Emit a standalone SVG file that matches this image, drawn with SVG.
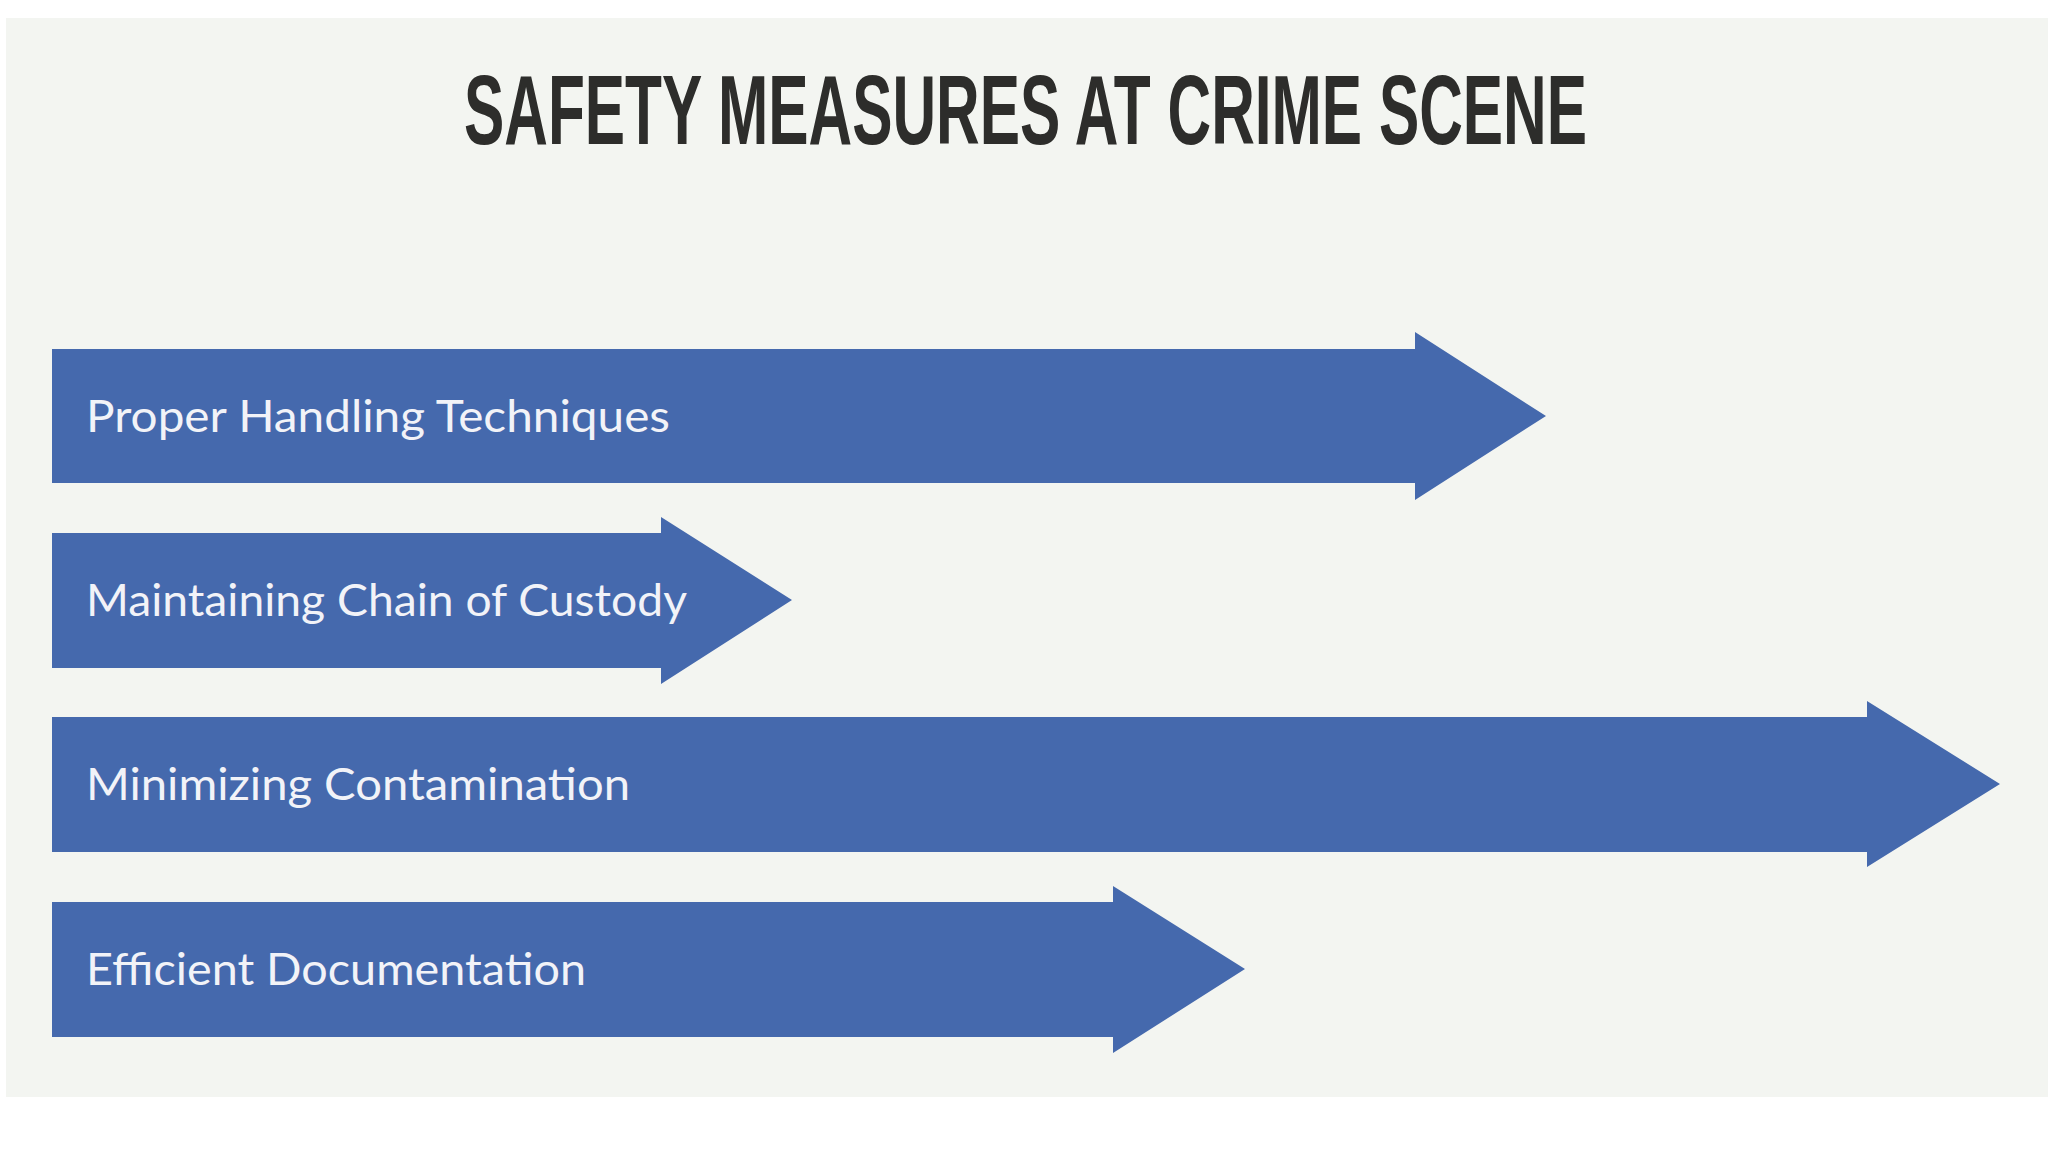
<svg xmlns="http://www.w3.org/2000/svg" width="2048" height="1152" viewBox="0 0 2048 1152">
<style>
.arrow{fill:#4569AD}
.label{font-family:Lato,"Open Sans","Liberation Sans",sans-serif;font-size:44px;fill:#F2F3F8}
.title{font-family:"Liberation Sans",Arial,sans-serif;font-weight:bold;font-size:98px;fill:#2D2D2B}
</style>
<rect x="0" y="0" width="2048" height="1152" fill="#FFFFFF"/>
<rect x="6" y="18" width="2042" height="1079" fill="#F3F5F1"/>
<text class="title" x="464" y="144" textLength="1123" lengthAdjust="spacingAndGlyphs">SAFETY MEASURES AT CRIME SCENE</text>
<g id="node-proper-handling">
<polygon class="arrow" points="52,349 1415,349 1415,332 1546,416 1415,500 1415,483 52,483"/>
<text class="label" x="86" y="432" textLength="584" lengthAdjust="spacingAndGlyphs">Proper Handling Techniques</text>
</g>
<g id="node-chain-of-custody">
<polygon class="arrow" points="52,533 661,533 661,517 792,600 661,684 661,668 52,668"/>
<text class="label" x="86" y="616" textLength="601" lengthAdjust="spacingAndGlyphs">Maintaining Chain of Custody</text>
</g>
<g id="node-contamination">
<polygon class="arrow" points="52,717 1867,717 1867,701 2000,784 1867,867 1867,852 52,852"/>
<text class="label" x="86" y="800" textLength="544" lengthAdjust="spacingAndGlyphs">Minimizing Contamination</text>
</g>
<g id="node-documentation">
<polygon class="arrow" points="52,902 1113,902 1113,886 1245,969 1113,1053 1113,1037 52,1037"/>
<text class="label" x="86" y="985" textLength="500" lengthAdjust="spacingAndGlyphs">Efficient Documentation</text>
</g>
<g id="connectors"></g>
</svg>
